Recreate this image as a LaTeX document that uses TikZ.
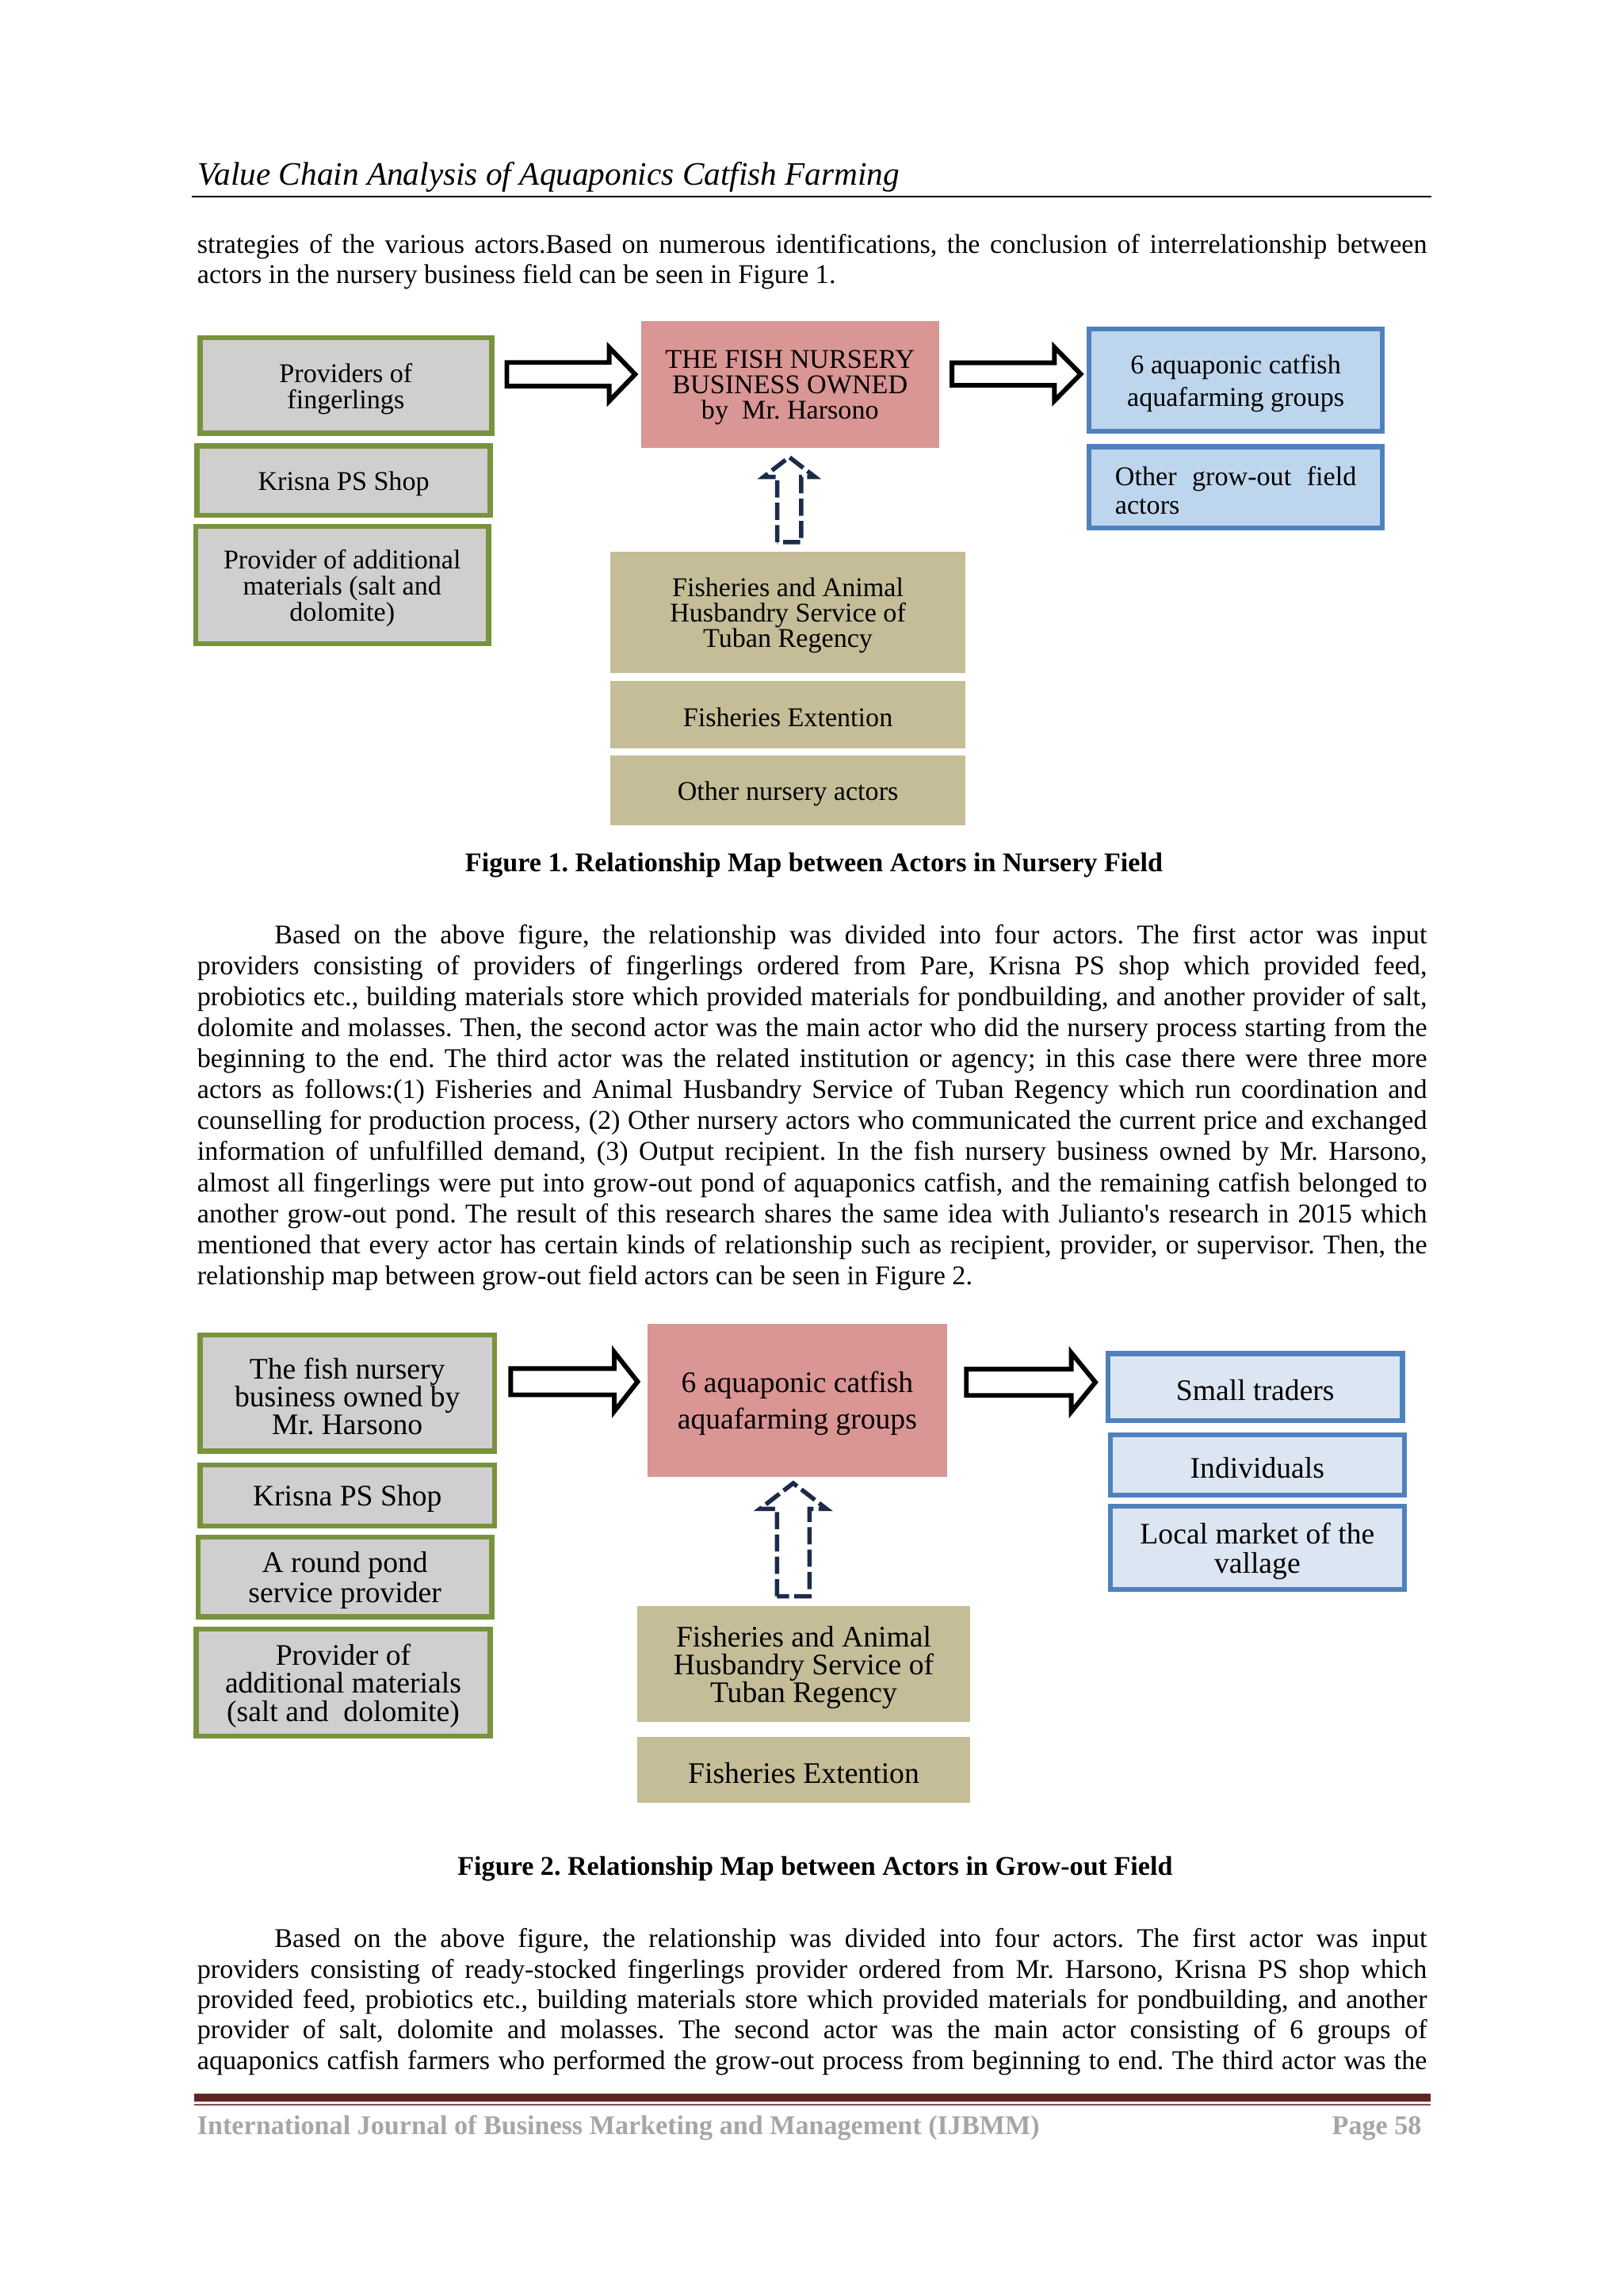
\documentclass[tikz,border=0pt]{standalone}
\usepackage{fontspec}
\setmainfont{Liberation Serif}
\definecolor{gborder}{HTML}{77933C}
\definecolor{gfill}{HTML}{D0CECF}
\definecolor{pinkfill}{HTML}{D99694}
\definecolor{khaki}{HTML}{C4BD97}
\definecolor{bborder}{HTML}{4F81BD}
\definecolor{bfillA}{HTML}{BDD6EE}
\definecolor{bfillB}{HTML}{DCE6F2}
\definecolor{navy}{HTML}{1C2B4A}
\definecolor{maroon}{HTML}{622423}
\definecolor{footgray}{HTML}{A6A6A6}
\newcommand\bodyfont{\fontsize{9.92pt}{11.3pt}\selectfont}
\newcommand\jline[3]{\node[anchor=base west,inner sep=0pt,font=\bodyfont] (#1) at (134.5,#2) {\makebox[451pt][s]{#3}};}
\newcommand\iline[3]{\node[anchor=base west,inner sep=0pt,font=\bodyfont] (#1) at (187.4,#2) {\makebox[422.6pt][s]{#3}};}
\newcommand\lline[3]{\node[anchor=base west,inner sep=0pt,font=\bodyfont] (#1) at (134.5,#2) {#3};}
\newcommand\blockarr[6]{\draw[blockarrow] (#1,#4-#5) -- (#2,#4-#5) -- (#2,#4-#6) -- (#3,#4) -- (#2,#4+#6) -- (#2,#4+#5) -- (#1,#4+#5) -- cycle;}
\newcommand\uparr[6]{\draw[dasharrow] (#1-#2,#3) -- (#1-#2,#4) -- (#1-#6,#4) -- (#1,#5) -- (#1+#6,#4) -- (#1+#2,#4) -- (#1+#2,#3) -- cycle;}
% #1 box style, #2 text style, #3 name, #4-#7 corners, #8 text
\newcommand\bx[8]{\node[#1, minimum width={(#6-#4)*0.5363pt}, minimum height={(#7-#5)*0.5363pt}] (#3) at ({(#4+#6)/2},{(#5+#7)/2}) {};
  \node[#2, inner sep=0pt, align=center] (#3-text) at ([yshift=-1.2pt]#3.center) {#8};}
\tikzset{
  gbox/.style={draw=gborder, fill=gfill, line width=1.9pt, inner sep=0pt},
  pbox/.style={fill=pinkfill, inner sep=0pt},
  kbox/.style={fill=khaki, inner sep=0pt},
  bboxA/.style={draw=bborder, fill=bfillA, line width=1.85pt, inner sep=0pt},
  bboxB/.style={draw=bborder, fill=bfillB, line width=1.85pt, inner sep=0pt},
  blockarrow/.style={draw=black, fill=white, line width=1.72pt, miter limit=10},
  dasharrow/.style={draw=navy, line width=1.6pt, dash pattern=on 6.3pt off 1.9pt},
  fA/.style={font=\fontsize{9.92pt}{9.6pt}\selectfont},
  fB/.style={font=\fontsize{10.94pt}{10.2pt}\selectfont},
  capt/.style={font=\bodyfont\bfseries, anchor=base, inner sep=0pt}
}
\begin{document}
\frenchspacing
\begin{tikzpicture}[x=0.5363pt,y=-0.5363pt]
\useasboundingbox (0,0) rectangle (1110,1569);
\fill[white] (0,0) rectangle (1110,1569);

% header
\node[anchor=base west,inner sep=0pt,font=\fontsize{12pt}{14pt}\selectfont\itshape] (hdr) at (135,126.5) {Value Chain Analysis of Aquaponics Catfish Farming};
\draw[line width=0.7pt] (131,134.3) -- (979,134.3);

% paragraph 1
\jline{pa1}{173}{strategies of the various actors.Based on numerous identifications, the conclusion of interrelationship between}
\lline{pa2}{194}{actors in the nursery business field can be seen in Figure 1.}

% figure 1
\bx{gbox}{fA}{g1}{136.8}{230.8}{336.2}{296.2}{Providers of\\fingerlings}
\bx{gbox}{fA}{g2}{134.8}{304.8}{335.2}{352.2}{Krisna PS Shop}
\bx{gbox}{fA}{g3}{133.8}{359.8}{334.2}{440.2}{Provider of additional\\materials (salt and\\dolomite)}
\bx{pbox}{font=\fontsize{9.92pt}{9.2pt}\selectfont}{p1}{438.5}{219.5}{642}{306}{THE FISH NURSERY\\BUSINESS OWNED\\by\ \ Mr. Harsono}
\bx{bboxA}{font=\fontsize{9.92pt}{11.8pt}\selectfont}{b1}{744.8}{224.8}{945.2}{294.7}{6 aquaponic catfish\\aquafarming groups}
\bx{bboxA}{font=\fontsize{9.92pt}{10.7pt}\selectfont}{b2}{744.8}{305.3}{945.2}{360.8}{\parbox{88.5pt}{\makebox[88.5pt][s]{Other grow-out field}\par actors}}
\bx{kbox}{font=\fontsize{9.92pt}{9.4pt}\selectfont}{k1}{417.5}{377}{660}{460}{Fisheries and Animal\\Husbandry Service of\\Tuban Regency}
\bx{kbox}{fA}{k2}{417.5}{465.3}{660}{511.5}{Fisheries Extention}
\bx{kbox}{fA}{k3}{417.5}{516.7}{660}{564}{Other nursery actors}

\blockarr{346.6}{416.6}{434.3}{255.9}{8.1}{18.3}
\blockarr{651}{721}{739}{255.7}{7.7}{18.3}
\uparr{539.7}{8.2}{370.7}{326}{312.5}{17.5}

\node[capt] (cap1) at (556.6,595.7) {Figure 1. Relationship Map between Actors in Nursery Field};

% paragraph 2
\iline{pb1}{645}{Based on the above figure, the relationship was divided into four actors. The first actor was input}
\jline{pb2}{666.2}{providers consisting of providers of fingerlings ordered from Pare, Krisna PS shop which provided feed,}
\jline{pb3}{687.4}{probiotics etc., building materials store which provided materials for pondbuilding, and another provider of salt,}
\jline{pb4}{708.6}{dolomite and molasses. Then, the second actor was the main actor who did the nursery process starting from the}
\jline{pb5}{729.8}{beginning to the end. The third actor was the related institution or agency; in this case there were three more}
\jline{pb6}{751}{actors as follows:(1) Fisheries and Animal Husbandry Service of Tuban Regency which run coordination and}
\jline{pb7}{772.2}{counselling for production process, (2) Other nursery actors who communicated the current price and exchanged}
\jline{pb8}{793.4}{information of unfulfilled demand, (3) Output recipient. In the fish nursery business owned by Mr. Harsono,}
\jline{pb9}{814.6}{almost all fingerlings were put into grow-out pond of aquaponics catfish, and the remaining catfish belonged to}
\jline{pb10}{835.8}{another grow-out pond. The result of this research shares the same idea with Julianto\textquotesingle s research in 2015 which}
\jline{pb11}{857}{mentioned that every actor has certain kinds of relationship such as recipient, provider, or supervisor. Then, the}
\lline{pb12}{878.2}{relationship map between grow-out field actors can be seen in Figure 2.}

% figure 2
\bx{gbox}{font=\fontsize{10.94pt}{10.2pt}\selectfont}{ga}{136.8}{912.6}{338.2}{992.2}{The fish nursery\\business owned by\\Mr. Harsono}
\bx{gbox}{fB}{gb}{136.8}{1001.6}{338.2}{1043.2}{Krisna PS Shop}
\bx{gbox}{font=\fontsize{10.94pt}{9.7pt}\selectfont}{gc}{135.5}{1050.8}{336.2}{1105.2}{A round pond\\service provider}
\bx{gbox}{fB}{gd}{134.1}{1113.8}{335.2}{1186.9}{Provider of\\additional materials\\(salt and\ \ dolomite)}
\bx{pbox}{font=\fontsize{10.94pt}{13.4pt}\selectfont}{p2}{442.6}{905.2}{647.7}{1009.6}{6 aquaponic catfish\\aquafarming groups}
\bx{kbox}{fB}{ka}{435.8}{1098}{663.3}{1177.2}{Fisheries and Animal\\Husbandry Service of\\Tuban Regency}
\bx{kbox}{fB}{kb}{435.8}{1187.3}{663.3}{1232.5}{Fisheries Extention}
\bx{bboxB}{fB}{ba}{757.7}{925.4}{959}{971.1}{Small traders}
\bx{bboxB}{fB}{bb}{759.3}{980.8}{960.2}{1022.2}{Individuals}
\bx{bboxB}{font=\fontsize{10.94pt}{10.7pt}\selectfont}{bc}{759.3}{1029.8}{960.2}{1086.7}{Local market of the\\vallage}

\blockarr{349.2}{420}{436}{944.6}{9.0}{20.3}
\blockarr{660.8}{732.5}{749}{945}{9.0}{20.2}
\uparr{542.4}{11.1}{1091.3}{1031.5}{1014}{22.7}

\node[capt] (cap2) at (557.4,1281.8) {Figure 2. Relationship Map between Actors in Grow-out Field};

% paragraph 3
\iline{pc1}{1331.5}{Based on the above figure, the relationship was divided into four actors. The first actor was input}
\jline{pc2}{1352.3}{providers consisting of ready-stocked fingerlings provider ordered from Mr. Harsono, Krisna PS shop which}
\jline{pc3}{1373.1}{provided feed, probiotics etc., building materials store which provided materials for pondbuilding, and another}
\jline{pc4}{1393.9}{provider of salt, dolomite and molasses. The second actor was the main actor consisting of 6 groups of}
\jline{pc5}{1414.7}{aquaponics catfish farmers who performed the grow-out process from beginning to end. The third actor was the}

% footer
\fill[maroon] (133,1431.4) rectangle (978,1436.6);
\draw[maroon!80, line width=0.6pt] (133,1438.9) -- (978,1438.9);
\node[anchor=base west,inner sep=0pt,font=\bodyfont\bfseries,text=footgray] (ftl) at (134.5,1459) {International Journal of Business Marketing and Management (IJBMM)};
\node[anchor=base east,inner sep=0pt,font=\bodyfont\bfseries,text=footgray] (ftr) at (972.4,1459) {Page 58};
\end{tikzpicture}
\end{document}
